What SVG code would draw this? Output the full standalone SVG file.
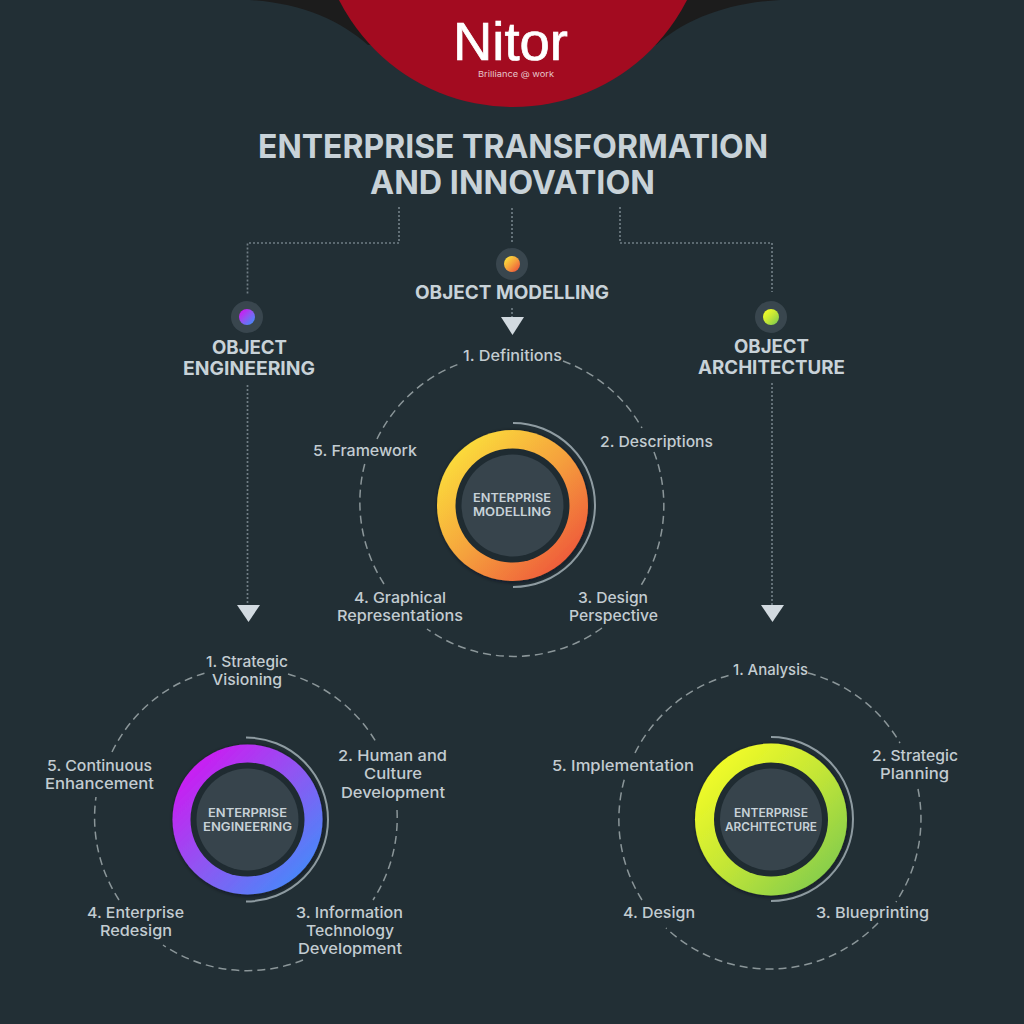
<svg xmlns="http://www.w3.org/2000/svg" width="1024" height="1024" viewBox="0 0 1024 1024">
<defs>
<linearGradient id="gM" x1="0.15" y1="0.15" x2="0.85" y2="0.85"><stop offset="0" stop-color="#fbd93b"/><stop offset="0.5" stop-color="#f5a23c"/><stop offset="1" stop-color="#ef5f3b"/></linearGradient>
<linearGradient id="gE" x1="0.15" y1="0.15" x2="0.85" y2="0.85"><stop offset="0" stop-color="#c81ff2"/><stop offset="0.5" stop-color="#8f56f2"/><stop offset="1" stop-color="#4d84f9"/></linearGradient>
<linearGradient id="gA" x1="0.15" y1="0.15" x2="0.85" y2="0.85"><stop offset="0" stop-color="#effa28"/><stop offset="0.5" stop-color="#c4e636"/><stop offset="1" stop-color="#8acf4a"/></linearGradient>
<filter id="sh" x="-20%" y="-20%" width="140%" height="140%"><feDropShadow dx="1" dy="1" stdDeviation="2" flood-color="#11191d" flood-opacity="0.7"/></filter>
<style>
text{font-family:"Inter","Liberation Sans",sans-serif}
.t{font-size:32px;font-weight:700;fill:#c8d2d8}
.h{font-size:19px;font-weight:700;fill:#c8d2d8}
.l{font-size:15px;font-weight:500;fill:#c3ccd1}
.c{font-size:12px;font-weight:600;fill:#c8d2d8}
.dash{fill:none;stroke:#8b9699;stroke-width:1.5;stroke-dasharray:8 5}
.dot{fill:none;stroke:#6f7d84;stroke-width:1.7;stroke-dasharray:2 2}
.arc{fill:none;stroke:#8f9ca2;stroke-width:2}
.tip{fill:#d2dae0}
.halo{fill:#39464e}
.gap{fill:#1f2b31}
.core{fill:#37444c}
</style>
</defs>
<rect width="1024" height="1024" fill="#222f35"/>
<g id="header">
<path d="M250,0C300,3 340,20 368,45L656,45C685,20 725,3 780,0Z" fill="#1c1c1c"/>
<circle cx="513" cy="-88" r="195" fill="#a30b20"/>
<text x="453" y="60" font-size="53" textLength="115" lengthAdjust="spacingAndGlyphs" fill="#ffffff" stroke="#ffffff" stroke-width="0.7" style="font-family:'Liberation Sans',sans-serif">Nitor</text>
<text x="478" y="77" font-size="8" textLength="76" lengthAdjust="spacingAndGlyphs" fill="#e6c5ca">Brilliance @ work</text>
</g>
<g id="title">
<text class="t" x="258" y="158" textLength="510" lengthAdjust="spacingAndGlyphs">ENTERPRISE TRANSFORMATION</text>
<text class="t" x="370" y="194" textLength="285" lengthAdjust="spacingAndGlyphs">AND INNOVATION</text>
</g>
<g id="connectors">
<path class="dot" d="M399,207V243H247.500V294"/>
<path class="dot" d="M247.500,385V606"/>
<path class="dot" d="M512,208V243"/>
<path class="dot" d="M512,308V318"/>
<path class="dot" d="M620,207V243H772V292"/>
<path class="dot" d="M772,383V606"/>
<polygon class="tip" points="237,605 260,605 248.500,622"/>
<polygon class="tip" points="501,317 524,317 512.500,335"/>
<polygon class="tip" points="761,605 784,605 772.500,622"/>
</g>
<g id="object-engineering">
<circle class="halo" cx="247" cy="317" r="16"/><circle cx="247" cy="317" r="8" fill="url(#gE)"/>
<text class="h" x="212" y="354" textLength="75" lengthAdjust="spacingAndGlyphs">OBJECT</text>
<text class="h" x="183" y="375" textLength="132" lengthAdjust="spacingAndGlyphs">ENGINEERING</text>
</g>
<g id="object-modelling">
<circle class="halo" cx="512" cy="264" r="16"/><circle cx="512" cy="264" r="8" fill="url(#gM)"/>
<text class="h" x="415" y="299" textLength="194" lengthAdjust="spacingAndGlyphs">OBJECT MODELLING</text>
</g>
<g id="object-architecture">
<circle class="halo" cx="771" cy="317" r="16"/><circle cx="771" cy="317" r="8" fill="url(#gA)"/>
<text class="h" x="734" y="353" textLength="75" lengthAdjust="spacingAndGlyphs">OBJECT</text>
<text class="h" x="698" y="374" textLength="147" lengthAdjust="spacingAndGlyphs">ARCHITECTURE</text>
</g>
<g id="enterprise-modelling">
<path class="dash" d="M377,439A151,151 0 0 1 461.700,363"/>
<path class="dash" d="M563,361A151,151 0 0 1 642,428"/>
<path class="dash" d="M654,452A151,151 0 0 1 640,587"/>
<path class="dash" d="M602,628A151,151 0 0 1 427,629"/>
<path class="dash" d="M384,584A151,151 0 0 1 365,463"/>
<path class="arc" d="M513,423A82,82 0 0 1 513,587"/>
<circle cx="512.500" cy="505.500" r="75.500" fill="url(#gM)" filter="url(#sh)"/>
<circle class="gap" cx="512.500" cy="505.500" r="57"/>
<circle class="core" cx="512.500" cy="505.500" r="51"/>
<text class="c" x="473" y="501.500" textLength="78" lengthAdjust="spacingAndGlyphs">ENTERPRISE</text>
<text class="c" x="473" y="515.500" textLength="78" lengthAdjust="spacingAndGlyphs">MODELLING</text>
<text class="l" x="463" y="361" textLength="99" lengthAdjust="spacingAndGlyphs">1. Definitions</text>
<text class="l" x="600" y="446.500" textLength="113" lengthAdjust="spacingAndGlyphs">2. Descriptions</text>
<text class="l" x="578" y="603" textLength="70" lengthAdjust="spacingAndGlyphs">3. Design</text>
<text class="l" x="569" y="621" textLength="89" lengthAdjust="spacingAndGlyphs">Perspective</text>
<text class="l" x="354" y="603" textLength="92" lengthAdjust="spacingAndGlyphs">4. Graphical</text>
<text class="l" x="337" y="621" textLength="126" lengthAdjust="spacingAndGlyphs">Representations</text>
<text class="l" x="313" y="455.500" textLength="104" lengthAdjust="spacingAndGlyphs">5. Framework</text>
</g>
<g id="enterprise-engineering">
<path class="dash" d="M112,752A151,151 0 0 1 205,673"/>
<path class="dash" d="M288,674A151,151 0 0 1 376,742"/>
<path class="dash" d="M397,810A151,151 0 0 1 373,900"/>
<path class="dash" d="M303,960A151,151 0 0 1 163,945"/>
<path class="dash" d="M119,900A151,151 0 0 1 96,797"/>
<path class="arc" d="M246,737.500A82,82 0 0 1 246,901.500"/>
<circle cx="247.500" cy="819.500" r="75" fill="url(#gE)" filter="url(#sh)"/>
<circle class="gap" cx="247.500" cy="819.500" r="57"/>
<circle class="core" cx="247.500" cy="819.500" r="51"/>
<text class="c" x="208" y="817" textLength="79" lengthAdjust="spacingAndGlyphs">ENTERPRISE</text>
<text class="c" x="203" y="831" textLength="89" lengthAdjust="spacingAndGlyphs">ENGINEERING</text>
<text class="l" x="206" y="667" textLength="82" lengthAdjust="spacingAndGlyphs">1. Strategic</text>
<text class="l" x="212" y="685" textLength="70" lengthAdjust="spacingAndGlyphs">Visioning</text>
<text class="l" x="338" y="761" textLength="109" lengthAdjust="spacingAndGlyphs">2. Human and</text>
<text class="l" x="364" y="779" textLength="58" lengthAdjust="spacingAndGlyphs">Culture</text>
<text class="l" x="341" y="798" textLength="104" lengthAdjust="spacingAndGlyphs">Development</text>
<text class="l" x="296" y="918" textLength="107" lengthAdjust="spacingAndGlyphs">3. Information</text>
<text class="l" x="306" y="936" textLength="88" lengthAdjust="spacingAndGlyphs">Technology</text>
<text class="l" x="298" y="954" textLength="104" lengthAdjust="spacingAndGlyphs">Development</text>
<text class="l" x="87" y="918" textLength="97" lengthAdjust="spacingAndGlyphs">4. Enterprise</text>
<text class="l" x="100" y="936" textLength="72" lengthAdjust="spacingAndGlyphs">Redesign</text>
<text class="l" x="47" y="771" textLength="105" lengthAdjust="spacingAndGlyphs">5. Continuous</text>
<text class="l" x="45" y="789" textLength="109" lengthAdjust="spacingAndGlyphs">Enhancement</text>
</g>
<g id="enterprise-architecture">
<path class="dash" d="M635,753A151,151 0 0 1 730,675"/>
<path class="dash" d="M808,673A151,151 0 0 1 900,743"/>
<path class="dash" d="M918,789A151,151 0 0 1 896,902"/>
<path class="dash" d="M878,923A151,151 0 0 1 666,928"/>
<path class="dash" d="M642,900A151,151 0 0 1 625,777"/>
<path class="arc" d="M771,737A82,82 0 0 1 771,901"/>
<circle cx="771" cy="819.500" r="76" fill="url(#gA)" filter="url(#sh)"/>
<circle class="gap" cx="771" cy="819.500" r="57"/>
<circle class="core" cx="771" cy="819.500" r="51"/>
<text class="c" x="734" y="817" textLength="74" lengthAdjust="spacingAndGlyphs">ENTERPRISE</text>
<text class="c" x="725" y="831" textLength="92" lengthAdjust="spacingAndGlyphs">ARCHITECTURE</text>
<text class="l" x="733" y="675" textLength="75" lengthAdjust="spacingAndGlyphs">1. Analysis</text>
<text class="l" x="872" y="761" textLength="86" lengthAdjust="spacingAndGlyphs">2. Strategic</text>
<text class="l" x="880" y="779" textLength="69" lengthAdjust="spacingAndGlyphs">Planning</text>
<text class="l" x="816" y="918" textLength="113" lengthAdjust="spacingAndGlyphs">3. Blueprinting</text>
<text class="l" x="623" y="918" textLength="72" lengthAdjust="spacingAndGlyphs">4. Design</text>
<text class="l" x="552" y="771" textLength="142" lengthAdjust="spacingAndGlyphs">5. Implementation</text>
</g>
</svg>
